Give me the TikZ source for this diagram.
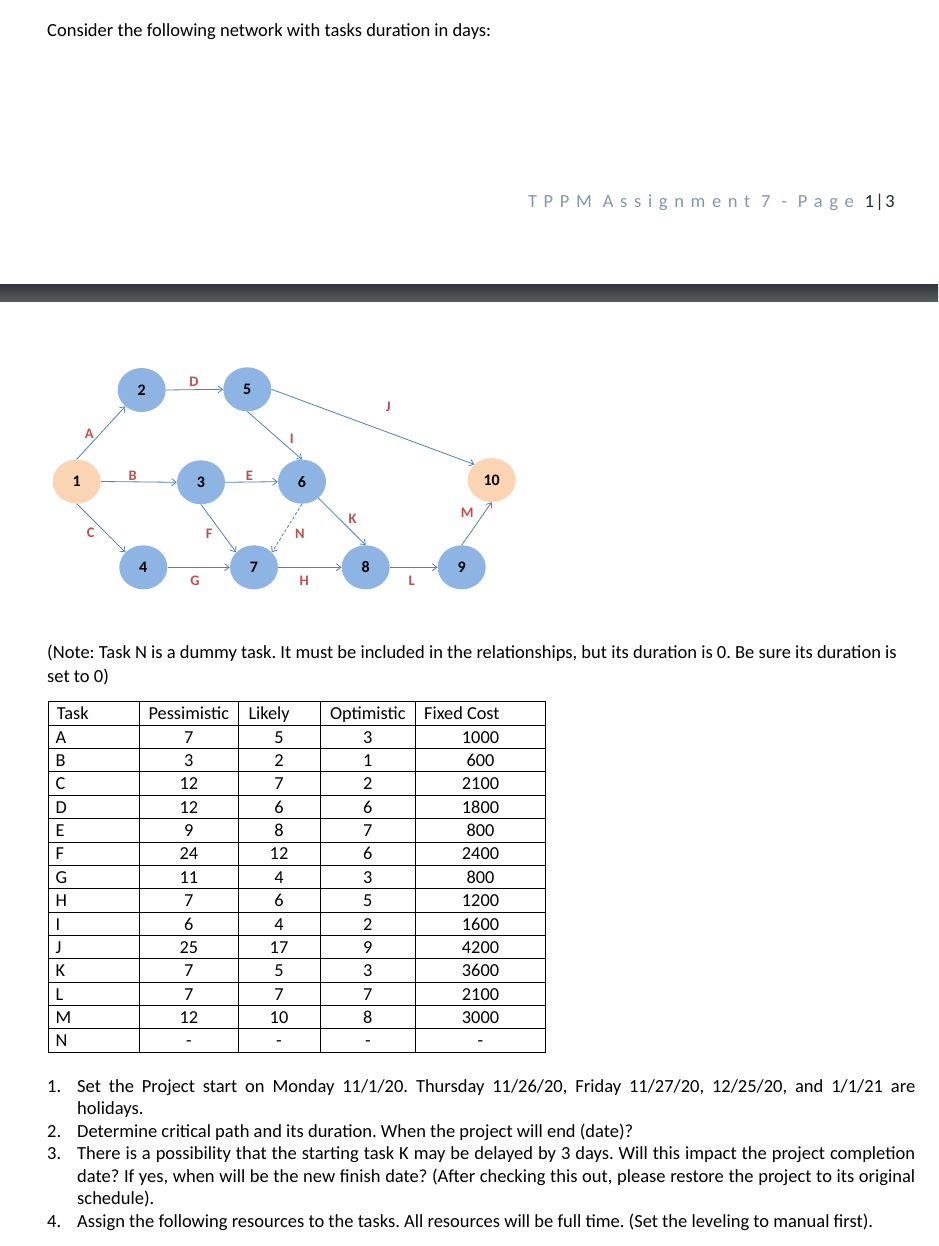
\documentclass[tikz,border=0pt]{standalone}
\usepackage{fontspec}
\setmainfont{Carlito}
\usetikzlibrary{shapes.geometric,arrows.meta}
\definecolor{nodeblue}{RGB}{141,180,226}
\definecolor{nodeorange}{RGB}{251,212,180}
\definecolor{edgeblue}{RGB}{79,129,189}
\definecolor{labred}{RGB}{192,80,77}
\definecolor{hdrgray}{RGB}{132,151,176}
\definecolor{hdrdark}{RGB}{30,40,55}
\definecolor{bartop}{RGB}{50,54,59}
\definecolor{barbot}{RGB}{86,91,96}
\tikzset{
  txt/.style={inner sep=0pt, anchor=base west, font=\fontsize{18.5}{22.5}\selectfont},
  tt/.style={inner sep=0pt, font=\fontsize{18.3}{22}\selectfont},
  nd/.style={ellipse, minimum width=48pt, minimum height=44pt, inner sep=0pt,
    fill=nodeblue, font=\fontsize{16}{18}\selectfont\bfseries},
  ndo/.style={nd, fill=nodeorange},
  edge/.style={draw=edgeblue, line width=0.8pt, -{Straight Barb[length=4.5pt,width=7pt]}},
  lab/.style={inner sep=0pt, text=labred, font=\fontsize{14.5}{16}\selectfont\bfseries},
  tab/.style={draw=black, line width=0.8pt},
}
\begin{document}
\frenchspacing
\begin{tikzpicture}[x=1pt,y=-1pt]
\useasboundingbox (0,0) rectangle (938,1246);
\fill[white] (0,0) rectangle (938,1246);

% title
\node[txt] (title) at (47,37) {Consider the following network with tasks duration in days:};

% header
\node[inner sep=0pt, anchor=base east, font=\fontsize{18.5}{22}\selectfont] (hdr) at (895,207.7)
  {{\addfontfeatures{LetterSpace=36}\color{hdrgray}TPPM Assignment 7 - Page }\color{hdrdark}1\hspace{1.5pt}|\hspace{1.5pt}3};

% bar
\shade[top color=bartop, bottom color=barbot] (0,284.3) rectangle (938,301);

% network nodes
\node[ndo] (n1) at (76.7,481.5) {1};
\node[nd] (n2) at (141.7,390) {2};
\node[nd] (n5) at (247.3,389.3) {5};
\node[nd] (n3) at (201,482.3) {3};
\node[nd] (n6) at (302,481.7) {6};
\node[ndo] (n10) at (491.7,480) {10};
\node[nd] (n4) at (143.3,567.3) {4};
\node[nd] (n7) at (254,567.3) {7};
\node[nd] (n8) at (365.7,567.3) {8};
\node[nd] (n9) at (461.7,567.3) {9};

% connectors
\draw[edge] (n1.north) -- (n2.225);
\draw[edge] (n1.east) -- (n3.west);
\draw[edge] (n1.south) -- (n4.140);
\draw[edge] (n2.east) -- (n5.west);
\draw[edge] (n5.east) -- (n10.138);
\draw[edge] (n5.south) -- (n6.north);
\draw[edge] (n3.east) -- (n6.west);
\draw[edge] (n3.south) -- (n7.140);
\draw[edge, dash pattern=on 3pt off 2pt] (n6.south) -- (n7.40);
\draw[edge] (n6.-45) -- (n8.north);
\draw[edge] (n4.east) -- (n7.west);
\draw[edge] (n7.east) -- (n8.west);
\draw[edge] (n8.east) -- (n9.west);
\draw[edge] (n9.north) -- (n10.south);

% connector labels
\node[lab] (lA) at (89.3,433.3) {A};
\node[lab] (lD) at (194,381.7) {D};
\node[lab] (lJ) at (388.3,407.3) {J};
\node[lab] (lI) at (291.7,438.3) {I};
\node[lab] (lB) at (132.7,476) {B};
\node[lab] (lE) at (249.3,476) {E};
\node[lab] (lC) at (90.7,532.3) {C};
\node[lab] (lF) at (209.3,534) {F};
\node[lab] (lN) at (300,534) {N};
\node[lab] (lK) at (352.7,518.3) {K};
\node[lab] (lM) at (467.3,512.3) {M};
\node[lab] (lG) at (195,580.7) {G};
\node[lab] (lH) at (304.3,580.7) {H};
\node[lab] (lL) at (411.7,580.7) {L};

% note
\node[txt] (note1) at (47,658.5) {(Note: Task N is a dummy task. It must be included in the relationships, but its duration is 0. Be sure its duration is};
\node[txt] (note2) at (47,682.5) {set to 0)};

% table grid
\foreach \i in {0,...,15} \draw[tab] (48.3,{701.7+23.37*\i}) -- (545.7,{701.7+23.37*\i});
\foreach \x in {48.3,139.3,238.3,320.3,415.3,545.7} \draw[tab] (\x,701.7) -- (\x,1052.25);

% table header
\node[tt, anchor=base west] (hT) at (56.7,719.9) {Task};
\node[tt, anchor=base] (hP) at (188.8,719.9) {Pessimistic};
\node[tt, anchor=base west] (hL) at (248.3,719.9) {Likely};
\node[tt, anchor=base] (hO) at (367.8,719.9) {Optimistic};
\node[tt, anchor=base west] (hF) at (424,719.9) {Fixed Cost};

% table rows
\foreach \t/\p/\l/\o/\f [count=\i] in {A/7/5/3/1000, B/3/2/1/600, C/12/7/2/2100, D/12/6/6/1800, E/9/8/7/800, F/24/12/6/2400, G/11/4/3/800, H/7/6/5/1200, I/6/4/2/1600, J/25/17/9/4200, K/7/5/3/3600, L/7/7/7/2100, M/12/10/8/3000, N/-/-/-/-} {
  \node[tt, anchor=base west] (t\i) at (55.5,{701.7+23.37*\i+18}) {\t};
  \node[tt, anchor=base] (p\i) at (188.8,{701.7+23.37*\i+18}) {\p};
  \node[tt, anchor=base] (l\i) at (279,{701.7+23.37*\i+18}) {\l};
  \node[tt, anchor=base] (o\i) at (367.8,{701.7+23.37*\i+18}) {\o};
  \node[tt, anchor=base] (f\i) at (480.5,{701.7+23.37*\i+18}) {\f};
}

% numbered list
\node[txt] (q1n) at (47,1092.5) {1.};
\node[txt] (q1a) at (77,1092.5) {\makebox[838pt][s]{Set the Project start on Monday 11/1/20. Thursday 11/26/20, Friday 11/27/20, 12/25/20, and 1/1/21 are}};
\node[txt] (q1b) at (77,1114.95) {holidays.};
\node[txt] (q2n) at (47,1137.4) {2.};
\node[txt] (q2a) at (77,1137.4) {Determine critical path and its duration. When the project will end (date)?};
\node[txt] (q3n) at (47,1159.85) {3.};
\node[txt] (q3a) at (77,1159.85) {\makebox[838pt][s]{There is a possibility that the starting task K may be delayed by 3 days. Will this impact the project completion}};
\node[txt] (q3b) at (77,1182.3) {\makebox[838pt][s]{date? If yes, when will be the new finish date? (After checking this out, please restore the project to its original}};
\node[txt] (q3c) at (77,1204.75) {schedule).};
\node[txt] (q4n) at (47,1227.2) {4.};
\node[txt] (q4a) at (77,1227.2) {Assign the following resources to the tasks. All resources will be full time. (Set the leveling to manual first).};
\end{tikzpicture}
\end{document}
